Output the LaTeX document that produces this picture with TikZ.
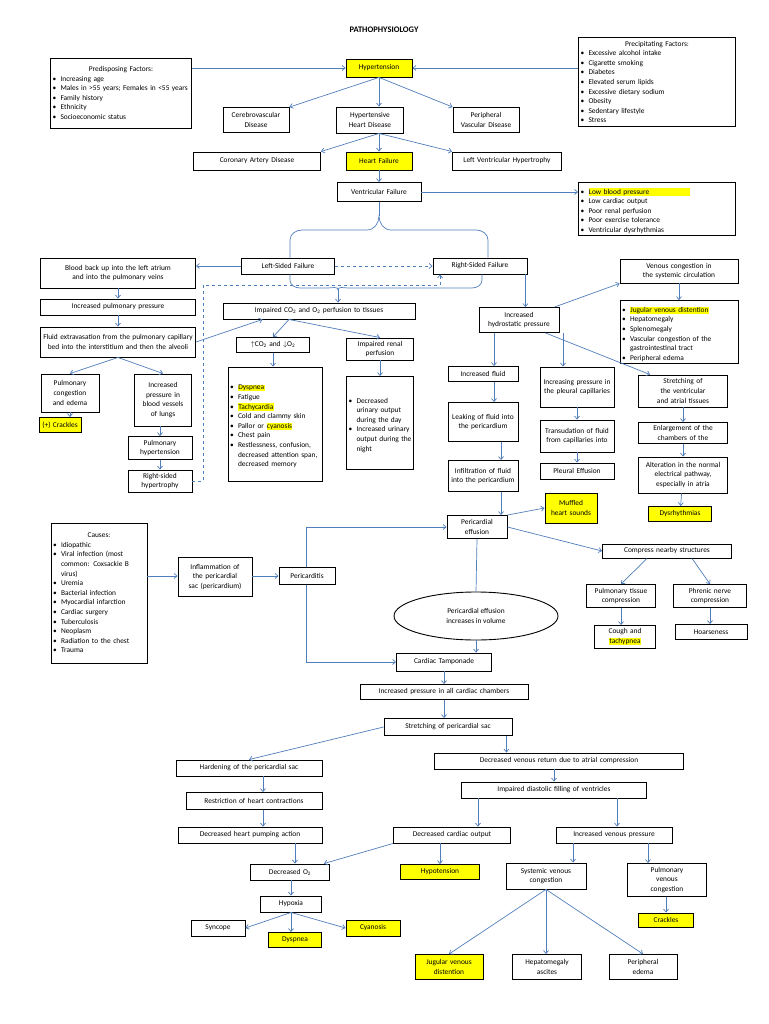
\documentclass[tikz,border=0pt]{standalone}
\usepackage{fontspec}
\setmainfont{Carlito}[HyphenChar=None]
\usetikzlibrary{arrows.meta,shapes.geometric}
\definecolor{linec}{RGB}{80,126,186}
\definecolor{hlc}{RGB}{255,255,0}
\newcommand\itm[1]{\par\hangindent=8pt\hangafter=1\noindent\makebox[8pt][l]{\textbullet}#1\par}
\newcommand\hlt[1]{{\setlength{\fboxsep}{0.4pt}\colorbox{hlc}{#1}}}
\newcommand\ttl[1]{\makebox[\linewidth]{#1}}
\tikzset{
 box/.style={draw=black,line width=0.9pt,fill=white,align=center,inner sep=2pt,font=\fontsize{7.4}{9.6}\selectfont},
 yel/.style={fill=hlc},
 lst/.style={align=left},
 conn/.style={draw=linec,line width=0.7pt,-{Straight Barb[length=3pt,width=5pt]}},
 plain/.style={draw=linec,line width=0.7pt},
 dsh/.style={conn,dashed}
}
\begin{document}
\begin{tikzpicture}[x=1pt,y=-1pt]
\useasboundingbox (0,0) rectangle (768,1024);
\node[font=\fontsize{8.5}{9}\selectfont\bfseries] (title) at (384,30) {PATHOPHYSIOLOGY};
% top
\node[box,lst,text width=137pt,minimum height=70pt] (pre) at (121,93) {\ttl{Predisposing Factors:}\itm{Increasing age}\itm{Males in >55 years; Females in <55 years}\itm{Family history}\itm{Ethnicity}\itm{Socioeconomic status}};
\node[box,yel,text width=62pt,minimum height=18pt] (hyp) at (379,68) {Hypertension};
\node[box,lst,text width=153pt,minimum height=89pt] (prc) at (657,82) {\ttl{Precipitating Factors:}\itm{Excessive alcohol intake}\itm{Cigarette smoking}\itm{Diabetes}\itm{Elevated serum lipids}\itm{Excessive dietary sodium}\itm{Obesity}\itm{Sedentary lifestyle}\itm{Stress}};
\node[box,text width=62pt,minimum height=25pt] (cer) at (256,120) {Cerebrovascular Disease};
\node[box,text width=63pt,minimum height=26pt] (hhd) at (370,120) {Hypertensive Heart Disease};
\node[box,text width=62pt,minimum height=25pt] (pvd) at (486,120) {Peripheral Vascular Disease};
\node[box,text width=123pt,minimum height=18pt] (cad) at (257,161) {Coronary Artery Disease};
\node[box,yel,text width=62pt,minimum height=18pt] (hf) at (379,161) {Heart Failure};
\node[box,text width=105pt,minimum height=18pt] (lvh) at (507,161) {Left Ventricular Hypertrophy};
\node[box,text width=80pt,minimum height=19pt] (vf) at (379,192) {Ventricular Failure};
\node[box,lst,text width=153pt,minimum height=46pt] (lbp) at (657,209) {\itm{\hlt{Low\ blood pressure\hspace{40pt}}}\itm{Low cardiac output}\itm{Poor renal perfusion}\itm{Poor exercise tolerance}\itm{Ventricular dysrhythmias}};
% failures
\node[box,text width=89pt,minimum height=16pt] (lsf) at (288,266) {Left-Sided Failure};
\node[box,text width=90pt,minimum height=16pt] (rsf) at (480,266) {Right-Sided Failure};
\node[box,text width=151pt,minimum height=30pt] (bbu) at (118,273) {Blood back up into the left atrium and into the pulmonary veins};
\node[box,text width=151pt,minimum height=16pt] (ipp) at (118,307) {Increased pulmonary pressure};
\node[box,text width=151pt,minimum height=30pt] (fex) at (118,342) {Fluid extravasation from the pulmonary capillary bed into the interstitium and then the alveoli};
\node[box,text width=54pt,minimum height=38pt] (pce) at (70,393) {Pulmonary congestion and edema};
\node[box,text width=53pt,minimum height=52pt] (ipb) at (163,400) {Increased pressure in blood vessels of lungs};
\node[box,yel,text width=38pt,minimum height=15pt] (crk1) at (60,425) {(+) Crackles};
\node[box,text width=60pt,minimum height=23pt] (phy) at (160,448) {Pulmonary hypertension};
\node[box,text width=60pt,minimum height=22pt] (rsh) at (160,481) {Right-sided hypertrophy};
\node[box,text width=188pt,minimum height=16pt] (imp) at (319,311) {Impaired CO\textsubscript{2} and O\textsubscript{2} perfusion to tissues};
\node[box,text width=69pt,minimum height=15pt] (co2) at (273,345) {$\uparrow$CO\textsubscript{2} and $\downarrow$O\textsubscript{2}};
\node[box,text width=63pt,minimum height=22pt] (irp) at (380,349) {Impaired renal perfusion};
\node[box,lst,text width=90pt,minimum height=114pt] (sym) at (275,424) {\itm{\hlt{Dyspnea}}\itm{Fatigue}\itm{\hlt{Tachycardia}}\itm{Cold and clammy skin}\itm{Pallor or \hlt{cyanosis}}\itm{Chest pain}\itm{Restlessness, confusion, decreased attention span, decreased memory}};
\node[box,lst,text width=63pt,minimum height=93pt] (ren) at (380,423) {\itm{Decreased urinary output during the day}\itm{Increased urinary output during the night}};
% right
\node[box,text width=76pt,minimum height=25pt] (hyd) at (519,320) {Increased hydrostatic pressure};
\node[box,text width=114pt,minimum height=24pt] (vcs) at (679,271) {Venous congestion in the systemic circulation};
\node[box,lst,text width=114pt,minimum height=58pt] (jvl) at (679,332) {\itm{\hlt{Jugular venous distention}}\itm{Hepatomegaly}\itm{Splenomegaly}\itm{Vascular congestion of the gastrointestinal tract}\itm{Peripheral edema}};
\node[box,text width=66pt,minimum height=15pt] (ifl) at (483,374) {Increased fluid};
\node[box,text width=70pt,minimum height=40pt] (ipc) at (577,387) {Increasing pressure in the pleural capillaries};
\node[box,text width=85pt,minimum height=32pt] (stv) at (683,391) {Stretching of the ventricular and atrial tissues};
\node[box,text width=66pt,minimum height=39pt] (lkf) at (483,422) {Leaking of fluid into the pericardium};
\node[box,text width=70pt,minimum height=32pt] (trn) at (577,436) {Transudation of fluid from capillaries into};
\node[box,text width=70pt,minimum height=16pt] (ple) at (577,471) {Pleural Effusion};
\node[box,text width=85pt,minimum height=21pt] (enl) at (683,433) {Enlargement of the chambers of the};
\node[box,text width=85pt,minimum height=36pt] (alt) at (683,475) {Alteration in the normal electrical pathway, especially in atria};
\node[box,text width=66pt,minimum height=31pt] (inf) at (483,476) {Infiltration of fluid into the pericardium};
\node[box,yel,text width=48pt,minimum height=30pt] (muf) at (571,508) {Muffled heart sounds};
\node[box,yel,text width=59pt,minimum height=15pt] (dys) at (680,514) {Dysrhythmias};
\node[box,text width=56pt,minimum height=23pt] (pef) at (477,527) {Pericardial effusion};
\node[box,lst,text width=92pt,minimum height=140pt] (cau) at (99,593) {\ttl{Causes:}\itm{Idiopathic}\itm{Viral infection (most common: Coxsackie B virus)}\itm{Uremia}\itm{Bacterial infection}\itm{Myocardial infarction}\itm{Cardiac surgery}\itm{Tuberculosis}\itm{Neoplasm}\itm{Radiation to the chest}\itm{Trauma}};
\node[box,text width=70pt,minimum height=39pt] (ifm) at (215,577) {Inflammation of the pericardial sac (pericardium)};
\node[box,text width=52pt,minimum height=17pt] (pcd) at (307,576) {Pericarditis};
\node[box,text width=125pt,minimum height=14pt] (cns) at (667,551) {Compress nearby structures};
\node[draw=black,line width=0.9pt,ellipse,minimum width=164pt,minimum height=48pt,align=center,font=\fontsize{7.4}{9.6}\selectfont] (ell) at (476,616) {Pericardial effusion\\increases in volume};
\node[box,text width=65pt,minimum height=23pt] (ptc) at (621,596) {Pulmonary tissue compression};
\node[box,text width=69pt,minimum height=23pt] (pnc) at (710,596) {Phrenic nerve compression};
\node[box,text width=57pt,minimum height=23pt] (cgh) at (625,637) {Cough and \hlt{tachypnea}};
\node[box,text width=68pt,minimum height=15pt] (hrs) at (711,632) {Hoarseness};
\node[box,text width=91pt,minimum height=18pt] (ctp) at (444,662) {Cardiac Tamponade};
\node[box,text width=164pt,minimum height=15pt] (ipa) at (444,692) {Increased pressure in all cardiac chambers};
\node[box,text width=124pt,minimum height=17pt] (sps) at (448,727) {Stretching of pericardial sac};
\node[box,text width=142pt,minimum height=16pt] (hrd) at (249,768) {Hardening of the pericardial sac};
\node[box,text width=245pt,minimum height=16pt] (dvr) at (559,761) {Decreased venous return due to atrial compression};
\node[box,text width=181pt,minimum height=16pt] (idf) at (554,790) {Impaired diastolic filling of ventricles};
\node[box,text width=132pt,minimum height=17pt] (rhc) at (254,801) {Restriction of heart contractions};
\node[box,text width=140pt,minimum height=16pt] (dhp) at (250,835) {Decreased heart pumping action};
\node[box,text width=113pt,minimum height=16pt] (dco) at (452,835) {Decreased cardiac output};
\node[box,text width=112pt,minimum height=16pt] (ivp) at (614,835) {Increased venous pressure};
\node[box,text width=75pt,minimum height=16pt] (do2) at (290,872) {Decreased O\textsubscript{2}};
\node[box,yel,text width=75pt,minimum height=15pt] (hyt) at (440,872) {Hypotension};
\node[box,text width=76pt,minimum height=26pt] (svc) at (546,876) {Systemic venous congestion};
\node[box,text width=75pt,minimum height=33pt] (pvc) at (667,880) {Pulmonary\\venous\\congestion};
\node[box,text width=57pt,minimum height=16pt] (hpx) at (291,904) {Hypoxia};
\node[box,yel,text width=51pt,minimum height=14pt] (crk2) at (666,920) {Crackles};
\node[box,text width=50pt,minimum height=16pt] (syn) at (218,928) {Syncope};
\node[box,yel,text width=49pt,minimum height=15pt] (dsp) at (295,940) {Dyspnea};
\node[box,yel,text width=50pt,minimum height=16pt] (cya) at (373,928) {Cyanosis};
\node[box,yel,text width=64pt,minimum height=25pt] (jvd) at (449,967) {Jugular venous\\distention};
\node[box,text width=65pt,minimum height=25pt] (hep) at (547,967) {Hepatomegaly\\ascites};
\node[box,text width=64pt,minimum height=25pt] (ped) at (643,967) {Peripheral\\edema};
% coordinates
\coordinate (bt) at (379,216);
\coordinate (bb) at (338,290);
\coordinate (pv) at (306,527);
\coordinate (pw) at (306,662);
\coordinate (dd) at (203,285);
% connectors top
\draw[conn] (pre.east |- hyp) -- (hyp.west);
\draw[conn] (prc.west |- hyp) -- (hyp.east);
\draw[conn] (hyp.south) -- (cer.north east);
\draw[conn] (hyp.south) -- (hhd.north -| hyp);
\draw[conn] (hyp.south) -- (pvd.north west);
\draw[conn] (hhd.south -| hf) -- (cad.north east);
\draw[conn] (hhd.south -| hf) -- (hf.north);
\draw[conn] (hhd.south -| hf) -- (lvh.north west);
\draw[conn] (hf.south) -- (vf.north);
\draw[conn] (vf.east) -- (lbp.west |- vf);
\draw[plain] (vf.south) -- (bt);
\draw[plain] (lsf.north -| 290,0) -- (290,240) to[out=90,in=180] (302,230) -- (367,230) to[out=0,in=-90] (bt) to[out=-90,in=180] (391,230) -- (476,230) to[out=0,in=90] (488,240) -- (rsf.north -| 488,0);
\draw[plain] (lsf.south -| 290,0) -- (290,280) to[out=-90,in=180] (300,288) -- (328,288) to[out=0,in=90] (bb);
\draw[plain] (rsf.south -| 482,0) -- (482,280) to[out=-90,in=0] (472,288) -- (348,288) to[out=180,in=90] (bb);
\draw[conn] (bb) -- (imp.north -| bb);
% left
\draw[conn] (lsf.west) -- (bbu.east |- lsf);
\draw[dsh] (lsf.east) -- (rsf.west);
\draw[conn] (bbu) -- (ipp);
\draw[conn] (ipp) -- (fex);
\draw[conn] (fex.south) -- (pce.north);
\draw[conn] (fex.south) -- (ipb.north);
\draw[conn] (pce) -- (crk1.north -| pce);
\draw[conn] (ipb.south -| phy) -- (phy.north);
\draw[conn] (phy) -- (rsh);
\draw[conn] (fex.east) -- ([xshift=40pt]imp.south west);
\draw[dsh] (rsh.east) -- (rsh.east -| dd) -- (dd) -- (dd -| 440,0) -- (rsf.south -| 440,0);
% middle
\draw[conn] ([xshift=-30pt]imp.south) -- (co2.north);
\draw[conn] ([xshift=-30pt]imp.south) -- (irp.north);
\draw[conn] (co2.south) -- (sym.north -| co2);
\draw[conn] (irp) -- (ren);
% right
\draw[conn] ([xshift=-2pt]rsf.south east) -- ([xshift=-2pt]rsf.south east |- hyd.north);
\draw[conn] ([xshift=-5pt]hyd.north east) -- (vcs.south west);
\draw[conn] (vcs) -- (jvl);
\draw[conn] (hyd.south -| 494,0) -- (ifl.north -| 494,0);
\draw[conn] (hyd.south -| 563,0) -- (ipc.north -| 563,0);
\draw[conn] ([xshift=-14pt]hyd.south east) -- ([xshift=12pt]stv.north west);
\draw[conn] (ifl.south -| 494,0) -- (lkf.north -| 494,0);
\draw[conn] (lkf.south -| 501,0) -- (inf.north -| 501,0);
\draw[conn] (inf.south -| 501,0) -- (pef.north -| 501,0);
\draw[conn] (ipc) -- (trn);
\draw[conn] (trn) -- (ple);
\draw[conn] (stv) -- (enl);
\draw[conn] (enl) -- (alt);
\draw[conn] (alt) -- (dys);
\draw[conn] (pef.north east) -- (muf.west);
\draw[conn] (pef.east) -- (cns.west);
\draw[conn] (cns.south) ++(-20pt,0) -- (ptc.north);
\draw[conn] (cns.south) ++(25pt,0) -- (pnc.north);
\draw[conn] (ptc) -- (cgh.north -| ptc);
\draw[conn] (pnc) -- (hrs.north -| pnc);
\draw[plain] (pef.south) -- (ell.north);
\draw[conn] (ell.south) -- (ctp.north -| ell);
\draw[conn] (cau.east |- pcd) -- (ifm.west |- pcd);
\draw[conn] (ifm.east |- pcd) -- (pcd.west);
\draw[conn] (pcd.north -| pv) -- (pv) -- (pef.west |- pv);
\draw[conn] (pcd.south -| pv) -- (pw) -- (ctp.west |- pw);
\draw[conn] (ctp) -- (ipa);
\draw[conn] (ipa.south) -- (sps.north -| ipa);
\draw[conn] (sps.west) -- (hrd.north);
\draw[conn] ([xshift=-6pt]sps.south east) -- ([xshift=-6pt]sps.south east |- dvr.north);
\draw[conn] (dvr.south -| idf) -- (idf.north);
\draw[conn] (idf.south -| 478,0) -- (dco.north -| 478,0);
\draw[conn] (idf.south -| 617,0) -- (ivp.north -| 617,0);
\draw[conn] (hrd.south -| 263,0) -- (rhc.north -| 263,0);
\draw[conn] (rhc.south -| 263,0) -- (dhp.north -| 263,0);
\draw[conn] (dhp.south -| 295,0) -- (do2.north -| 295,0);
\draw[conn] (dco.south west) -- ([xshift=-6pt]do2.north east);
\draw[conn] (dco.south -| hyt) -- (hyt.north);
\draw[conn] (ivp.south -| 573,0) -- (svc.north -| 573,0);
\draw[conn] (ivp.south -| 648,0) -- (pvc.north -| 648,0);
\draw[conn] (pvc.south -| crk2) -- (crk2.north);
\draw[conn] (do2.south -| hpx) -- (hpx.north);
\draw[conn] (hpx.south) -- (syn.east);
\draw[conn] (hpx.south) -- (dsp.north -| hpx);
\draw[conn] (hpx.south) -- (cya.west);
\draw[conn] (svc.south) -- (jvd.north);
\draw[conn] (svc.south) -- (hep.north -| svc);
\draw[conn] (svc.south) -- (ped.north);
\end{tikzpicture}
\end{document}
